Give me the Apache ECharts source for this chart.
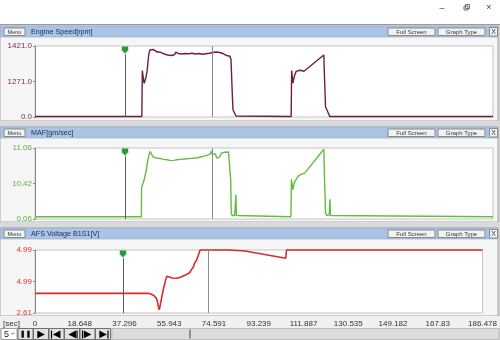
<!DOCTYPE html>
<html><head><meta charset="utf-8">
<script src="https://cdn.jsdelivr.net/npm/echarts@6/dist/echarts.min.js"></script>
<style>html,body{margin:0;padding:0;background:#fff}#c{width:500px;height:340px}</style>
</head><body><div id="c"></div>
<script>
// ---------- data ----------
const xTickLabels = ["0","18.648","37.296","55.943","74.591","93.239","111.887","130.535","149.182","167.83","186.478"];
const cursorTimes = [36.64, 72.07];
const panelTitles = ["Engine Speed[rpm]", "MAF[gm/sec]", "AFS Voltage B1S1[V]"];

const engineTickValues = [0, 710.5, 1421];
const engineTickLabels = ["0.0", "1271.0", "1421.0"];
const engineTime = [0,43.5,43.7,44.4,45.0,45.6,46.3,46.8,47.5,48.3,49.0,49.8,50.5,51.2,51.9,52.6,53.3,54.0,54.8,55.5,56.2,56.9,57.3,57.7,58.4,59.1,59.8,60.5,61.2,61.9,62.6,63.3,64.0,64.7,65.4,66.1,66.8,67.5,68.2,68.9,69.6,70.3,71.0,71.7,72.4,73.1,73.8,74.5,75.2,75.9,76.6,77.3,78.0,78.7,79.4,79.8,80.3,80.6,81.4,81.8,82.2,104.3,104.5,105.0,105.6,106.3,107.5,108.5,109.5,117.6,117.8,118.3,118.9,119.6,120.0,186.478];
const engineRpm = [10,10,930,670,760,900,1250,1340,1365,1350,1330,1300,1290,1295,1270,1260,1255,1240,1250,1230,1215,1250,1300,1280,1270,1285,1260,1275,1270,1290,1265,1280,1275,1285,1260,1300,1270,1280,1255,1240,1265,1285,1275,1310,1290,1320,1300,1310,1290,1300,1270,1240,1230,1220,1215,1150,500,150,140,20,10,10,930,680,820,910,935,930,915,1240,900,200,140,130,10,10];

const mafTickValues = [0.06, 5.56, 11.06];
const mafTickLabels = ["0.06", "10.42", "11.06"];
const mafTime = [0,43.3,43.4,43.8,44.3,44.8,45.3,45.8,46.4,46.9,47.4,48.0,48.7,49.4,50.1,50.9,51.6,52.3,53.0,53.7,54.4,55.1,55.8,56.5,57.2,57.9,58.6,59.3,60.0,60.7,61.4,62.1,62.8,63.5,64.2,64.9,65.6,66.3,67.0,67.7,68.4,69.1,69.8,70.5,71.0,71.4,71.8,72.2,72.6,73.0,73.5,74.0,74.5,75.0,75.5,76.0,76.5,77.2,78.0,78.8,79.5,79.7,79.9,80.3,80.8,81.3,81.6,81.8,82.0,82.4,104.2,104.4,105.0,105.5,106.0,107.0,107.9,108.7,109.9,117.6,117.9,118.3,118.8,119.3,119.8,120.1,120.3,120.7,186.478];
const mafValue = [0.4,0.4,5.0,4.7,5.9,6.1,7.6,8.9,10.0,10.5,10.2,9.7,9.75,9.5,9.6,9.45,9.5,9.3,9.4,9.25,9.2,9.1,9.2,9.15,9.3,9.25,9.35,9.3,9.4,9.35,9.45,9.4,9.5,9.45,9.55,9.5,9.6,9.55,9.65,9.7,9.75,9.8,9.85,10.0,10.3,10.1,10.6,10.2,10.5,9.9,10.1,9.5,9.2,9.6,9.9,10.3,10.45,10.4,10.5,10.45,10.4,6.0,1.0,0.6,0.5,0.6,0.7,3.8,0.6,0.4,0.4,6.2,4.6,5.6,6.0,6.6,6.9,7.15,7.2,10.86,6.0,1.0,0.6,0.5,0.7,3.1,0.6,0.4,0.4];

const afsTickValues = [2.61, 3.80, 4.99];
const afsTickLabels = ["2.61", "4.99", "4.99"];
const afsTime = [0,47.5,48.5,49.5,50.5,51.0,51.4,51.8,52.2,52.8,53.6,54.4,55.0,55.5,56.0,56.4,57.2,58.0,59.0,60.3,61.5,62.5,63.5,64.5,65.0,65.4,66.0,66.5,67.2,68.0,68.8,80.6,87.5,104.5,104.8,186.478];
const afsVolt = [3.35,3.35,3.32,3.27,3.18,3.05,2.85,2.73,2.80,3.20,3.55,3.85,4.0,3.95,3.97,3.90,3.93,3.87,3.92,3.95,4.0,4.04,4.08,4.14,4.22,4.19,4.35,4.50,4.58,4.78,4.99,4.99,4.95,4.68,4.99,4.99];

// ---------- layout / style ----------
const FONT = '"Liberation Sans", Arial, sans-serif';
const headerTops = [26, 127, 228];
const bodyBottoms = [121, 222, 316];
const grids = [
  {left: 35, right: 7, top: 46, height: 71},
  {left: 35, right: 7, top: 148, height: 71},
  {left: 35, right: 7, top: 250, height: 63}
];
const lineColors = ['#6a1f47', '#66bb44', '#d42c2c'];
const labelColors = ['#7a2a55', '#5cb040', '#d03a3a'];

const zip = (a, b) => a.map((t, i) => [t, b[i]]);
const seriesData = [zip(engineTime, engineRpm), zip(mafTime, mafValue), zip(afsTime, afsVolt)];
const tickVals = [engineTickValues, mafTickValues, afsTickValues];
const tickLabs = [engineTickLabels, mafTickLabels, afsTickLabels];
const xTickValues = xTickLabels.map(Number);

function nearestLabel(vals, labs, v) {
  let best = 0;
  vals.forEach((t, i) => { if (Math.abs(t - v) < Math.abs(vals[best] - v)) best = i; });
  return labs[best];
}

// graphics: window frame, panel headers, buttons, bottom controls
const g = [];
function btn(x, y, w, h, text, fs) {
  g.push({type: 'rect', z: 20, shape: {x: x, y: y, width: w, height: h},
    style: {fill: '#f2f2f2', stroke: '#8a8a8a', lineWidth: 1}});
  g.push({type: 'text', z: 21, x: x + w / 2, y: y + h / 2 + 0.5,
    style: {text: text, fill: '#333', font: (fs || 6) + 'px ' + FONT, textAlign: 'center', textVerticalAlign: 'middle'}});
}
// top window controls
g.push({type: 'text', z: 20, x: 442, y: 9, style: {text: '–', fill: '#444', font: '9px ' + FONT, textAlign: 'center', textVerticalAlign: 'middle'}});
g.push({type: 'rect', z: 20, shape: {x: 464, y: 6, width: 4, height: 4}, style: {fill: 'none', stroke: '#555', lineWidth: 0.8}});
g.push({type: 'rect', z: 20, shape: {x: 465.5, y: 4.5, width: 4, height: 4}, style: {fill: 'none', stroke: '#555', lineWidth: 0.8}});
g.push({type: 'text', z: 20, x: 489, y: 8, style: {text: '×', fill: '#444', font: '9px ' + FONT, textAlign: 'center', textVerticalAlign: 'middle'}});
g.push({type: 'line', z: 5, shape: {x1: 0, y1: 24.5, x2: 500, y2: 24.5}, style: {stroke: '#9a9a9a', lineWidth: 1}});

headerTops.forEach((h, i) => {
  const b = bodyBottoms[i];
  g.push({type: 'rect', z: -5, shape: {x: 0, y: h, width: 498, height: b - h}, style: {fill: '#f6f6f6', stroke: '#a8a8a8', lineWidth: 1}});
  g.push({type: 'rect', z: 10, shape: {x: 0.5, y: h, width: 497, height: 11}, style: {fill: '#abc4e3', stroke: '#8ea9cc', lineWidth: 0.6}});
  g.push({type: 'text', z: 21, x: 31, y: h + 6, style: {text: panelTitles[i], fill: '#1b2b55', font: '7.2px ' + FONT, textVerticalAlign: 'middle'}});
  btn(4, h + 2, 21, 7.5, 'Menu', 5.5);
  btn(388, h + 2, 47, 7.5, 'Full Screen', 6);
  btn(438, h + 2, 47, 7.5, 'Graph Type', 6);
  btn(489.5, h + 1.5, 8, 8.5, 'X', 7);
  if (i < 2) {
    g.push({type: 'rect', z: -5, shape: {x: 0, y: b, width: 500, height: headerTops[i + 1] - b}, style: {fill: '#dadada'}});
  }
});
g.push({type: 'rect', z: -6, shape: {x: 498, y: 25, width: 2, height: 291}, style: {fill: '#d0d0d0'}});
// x label row
g.push({type: 'rect', z: -5, shape: {x: 0, y: 316, width: 500, height: 13}, style: {fill: '#f0f0f0'}});
g.push({type: 'text', z: 20, x: 3, y: 324, style: {text: '[sec]', fill: '#333', font: '8px ' + FONT, textVerticalAlign: 'middle'}});
// control row
g.push({type: 'rect', z: -5, shape: {x: 0, y: 328, width: 500, height: 12}, style: {fill: '#d6d6d6'}});
g.push({type: 'rect', z: 20, shape: {x: 1, y: 328.5, width: 16, height: 11}, style: {fill: '#fff', stroke: '#888', lineWidth: 0.8}});
g.push({type: 'text', z: 21, x: 4, y: 334.5, style: {text: '5', fill: '#222', font: '9px ' + FONT, textVerticalAlign: 'middle'}});
g.push({type: 'text', z: 21, x: 13, y: 334, style: {text: '÷', fill: '#444', font: '7px ' + FONT, textAlign: 'center', textVerticalAlign: 'middle'}});
const ctrlGlyphs = ['❚❚', '▶', '◀', '◀', '▶', '▶'];
const ctrlBars = [null, null, 'L', 'R', 'L', 'R'];
ctrlGlyphs.forEach((t, k) => {
  const x = 18 + k * 15.5;
  g.push({type: 'rect', z: 20, shape: {x: x, y: 328.5, width: 15, height: 11}, style: {fill: '#e2e2e2', stroke: '#555', lineWidth: 0.8}});
  g.push({type: 'text', z: 21, x: x + 7.5, y: 334.5, style: {text: t, fill: '#000', font: (k === 0 ? 7 : 10) + 'px "DejaVu Sans"', textAlign: 'center', textVerticalAlign: 'middle'}});
  if (ctrlBars[k]) {
    const bx = ctrlBars[k] === 'L' ? x + 2.5 : x + 12.5;
    g.push({type: 'line', z: 21, shape: {x1: bx, y1: 330.5, x2: bx, y2: 338.5}, style: {stroke: '#000', lineWidth: 1.2}});
  }
});
g.push({type: 'rect', z: 19, shape: {x: 112, y: 328.5, width: 387, height: 11}, style: {fill: '#dcdcdc', stroke: '#aaa', lineWidth: 0.6}});
g.push({type: 'line', z: 21, shape: {x1: 190, y1: 329.5, x2: 190, y2: 338.5}, style: {stroke: '#444', lineWidth: 1}});

const markerPath = 'path://M0,0 L10,0 L10,6 L5,11 L0,6 Z';

const option = {
  animation: false,
  backgroundColor: '#fff',
  graphic: {elements: g},
  grid: grids.map(gr => Object.assign({show: true, backgroundColor: '#ffffff', borderColor: '#c4c4c4', borderWidth: 1}, gr)),
  xAxis: [0, 1, 2].map(i => ({
    type: 'value', gridIndex: i, min: 0, max: 186.478,
    axisLine: {show: false}, splitLine: {show: false},
    axisTick: {show: false},
    axisLabel: i === 2 ? {
      show: true, customValues: xTickValues, color: '#333', fontSize: 8, fontFamily: FONT, margin: 7,
      formatter: v => nearestLabel(xTickValues, xTickLabels, v)
    } : {show: false}
  })),
  yAxis: [0, 1, 2].map(i => ({
    type: 'value', gridIndex: i, min: tickVals[i][0], max: tickVals[i][2],
    axisLine: {show: true, lineStyle: {color: '#8a8a8a', width: 1}},
    axisTick: {show: true, customValues: tickVals[i], length: 2, lineStyle: {color: '#8a8a8a'}},
    splitLine: {show: false},
    axisLabel: {
      show: true, customValues: tickVals[i], color: labelColors[i], fontSize: 8, fontFamily: FONT, margin: 3,
      formatter: v => nearestLabel(tickVals[i], tickLabs[i], v)
    }
  })),
  series: [0, 1, 2].map(i => ({
    type: 'line', xAxisIndex: i, yAxisIndex: i, data: seriesData[i],
    showSymbol: false, clip: false,
    lineStyle: {color: lineColors[i], width: i === 2 ? 1.6 : 1.4},
    silent: true,
    markLine: {
      silent: true, symbol: ['none', 'none'], label: {show: false},
      data: [
        {xAxis: cursorTimes[0], lineStyle: {color: '#5a5a5a', width: 1, type: 'solid'}},
        {xAxis: cursorTimes[1], lineStyle: {color: '#8c8c8c', width: 1, type: 'solid'}}
      ]
    },
    markPoint: {
      silent: true, symbol: markerPath, symbolSize: [7, 8], symbolOffset: [0, 4],
      itemStyle: {color: '#249a3a', borderColor: '#cfe8cf', borderWidth: 1},
      label: {show: false},
      data: [{coord: [cursorTimes[0], tickVals[i][2]]}]
    }
  }))
};

const chart = echarts.init(document.getElementById('c'), null, {renderer: 'canvas', width: 500, height: 340});
chart.setOption(option);
</script>
</body></html>
